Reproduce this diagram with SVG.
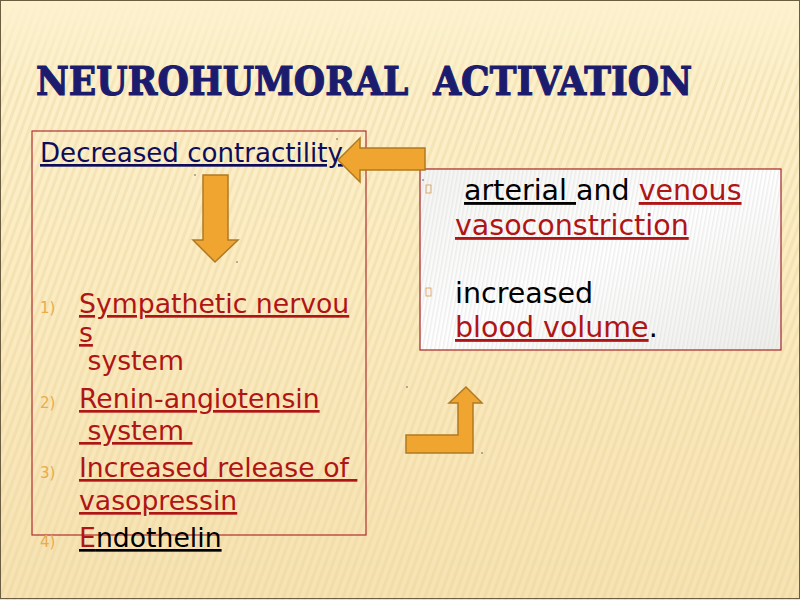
<svg xmlns="http://www.w3.org/2000/svg" width="800" height="600" viewBox="0 0 800 600">
<defs>
<linearGradient id="bg" x1="0" y1="0" x2="0" y2="1">
<stop offset="0" stop-color="#FDF2CF"/>
<stop offset="0.5" stop-color="#FBEBC0"/>
<stop offset="1" stop-color="#F6E2B2"/>
</linearGradient>
<pattern id="stripes" width="7" height="7" patternUnits="userSpaceOnUse" patternTransform="rotate(20)">
<rect width="3" height="7" fill="#E8D096" opacity="0.35"/>
</pattern>
<linearGradient id="fade" x1="0" y1="0" x2="0" y2="1">
<stop offset="0" stop-color="#fff" stop-opacity="0"/>
<stop offset="0.15" stop-color="#fff" stop-opacity="1"/>
<stop offset="1" stop-color="#fff" stop-opacity="1"/>
</linearGradient>
<mask id="m"><rect width="800" height="600" fill="url(#fade)"/></mask>
<linearGradient id="boxfill" x1="0" y1="0" x2="1" y2="1">
<stop offset="0" stop-color="#F4F4F2"/>
<stop offset="0.5" stop-color="#FFFFFF"/>
<stop offset="1" stop-color="#EDEDEA"/>
</linearGradient>
<pattern id="vstripes" width="4" height="4" patternUnits="userSpaceOnUse" patternTransform="rotate(10)">
<rect width="1.5" height="4" fill="#D8D8D8" opacity="0.4"/>
</pattern>
<style>
.t{font-family:"DejaVu Sans","Verdana",sans-serif;font-size:26.7px}
.r{font-family:"DejaVu Sans","Verdana",sans-serif;font-size:28.5px}
.red{fill:#B01515}
.blk{fill:#000}
.u{text-decoration:underline}
.num{font-family:"DejaVu Sans",sans-serif;font-size:15px;fill:#E8AC4C}
.arrow{fill:#F0A530;stroke:#B07A22;stroke-width:1.5;stroke-linejoin:miter}
.dot{fill:#5A5A50}
</style>
</defs>
<rect width="800" height="600" fill="url(#bg)"/>
<rect width="800" height="600" fill="url(#stripes)" mask="url(#m)"/>
<rect x="0.5" y="0.5" width="799" height="598" fill="none" stroke="#6B5E40" stroke-width="1"/>

<g id="title">
<text x="36" y="95" xml:space="preserve" font-family="'DejaVu Serif','Liberation Serif',serif" font-weight="bold" font-size="40" fill="#1C1C6E" stroke="#1C1C6E" stroke-width="1.2" textLength="656" lengthAdjust="spacingAndGlyphs">NEUROHUMORAL  ACTIVATION</text>
</g>

<g id="left-box">
<rect x="32" y="131" width="334" height="404" fill="none" stroke="#B03030" stroke-width="1.2"/>
<text class="t u" x="40" y="162" fill="#0D0D5C" textLength="303" lengthAdjust="spacingAndGlyphs">Decreased contractility</text>
<text class="num" x="40" y="313">1)</text>
<text class="num" x="40" y="408">2)</text>
<text class="num" x="40" y="478">3)</text>
<text class="num" x="40" y="547">4)</text>
<text class="t red u" x="79" y="313">Sympathetic nervou</text>
<text class="t red u" x="79" y="342">s</text>
<text class="t red" x="79" y="370" xml:space="preserve"> system</text>
<text class="t red u" x="79" y="408">Renin-angiotensin</text>
<text class="t red u" x="79" y="440" xml:space="preserve"> system </text>
<text class="t red u" x="79" y="477" xml:space="preserve">Increased release of </text>
<text class="t red u" x="79" y="510">vasopressin</text>
<text class="t u" x="79" y="547"><tspan class="red">E</tspan><tspan class="blk">ndothelin</tspan></text>
</g>

<g id="right-box">
<rect x="420" y="169" width="361" height="181" fill="url(#boxfill)"/>
<rect x="420" y="169" width="361" height="181" fill="url(#vstripes)"/>
<rect x="420" y="169" width="361" height="181" fill="none" stroke="#A52525" stroke-width="1.2"/>
<rect x="426" y="185" width="5" height="8" fill="none" stroke="#D89A50" stroke-width="0.8"/>
<rect x="426" y="288" width="5" height="8" fill="none" stroke="#D89A50" stroke-width="0.8"/>
<text class="r" x="455" y="200" xml:space="preserve"> <tspan class="blk u">arterial </tspan><tspan class="blk">and </tspan><tspan class="red u">venous</tspan></text>
<text class="r red u" x="455" y="235">vasoconstriction</text>
<text class="r blk" x="455" y="303">increased</text>
<text class="r" x="455" y="337"><tspan class="red u">blood volume</tspan><tspan class="blk">.</tspan></text>
</g>

<g id="connectors">
<path class="arrow" d="M425,148 L360,148 L360,138 L338,160 L360,182 L360,170 L425,170 Z"/>
<path class="arrow" d="M203,175 L228,175 L228,240 L238,240 L215,262 L193,240 L203,240 Z"/>
<path class="arrow" d="M406,435 L458,435 L458,403 L449,403 L466,387 L482,403 L473,403 L473,453 L406,453 Z"/>
</g>

<g id="specks">
<circle class="dot" cx="337" cy="139" r="0.8"/>
<circle class="dot" cx="195" cy="175" r="0.8"/>
<circle class="dot" cx="237" cy="262" r="0.8"/>
<circle class="dot" cx="423" cy="180" r="0.8"/>
<circle class="dot" cx="407" cy="387" r="0.8"/>
<circle class="dot" cx="482" cy="453" r="0.8"/>
</g>
</svg>
